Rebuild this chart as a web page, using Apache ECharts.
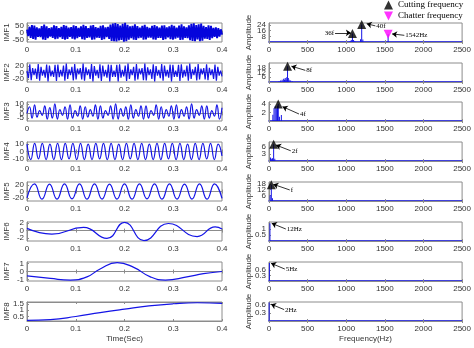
<!DOCTYPE html>
<html><head><meta charset="utf-8">
<script src="https://cdn.jsdelivr.net/npm/echarts@6/dist/echarts.min.js"></script>
<style>html,body{margin:0;padding:0;background:#fff}#c{width:474px;height:348px}</style>
</head><body><div id="c"></div>
<script>
// ================= DATA =================
const imfNames = ['IMF1','IMF2','IMF3','IMF4','IMF5','IMF6','IMF7','IMF8'];
const timeTicks = [0, 0.1, 0.2, 0.3, 0.4];
const freqTicks = [0, 500, 1000, 1500, 2000, 2500];

// dense IMFs: values sampled uniformly over 0..0.4 s
const IMF1 = [
 20,-25,40,-38,52,-45,48,-50,35,-30, 28,-32,45,-48,55,-52,42,-40,30,-28,
 35,-38,50,-46,44,-42,30,-32,40,-44, 52,-50,46,-44,34,-30,38,-42,50,-48,
 45,-40,32,-30,42,-46,54,-50,44,-38, 30,-34,48,-50,52,-48,38,-35,32,-38,
 46,-52,50,-46,36,-32,40,-44,55,-58, 62,-60,66,-62,58,-55,48,-52,60,-64,
 68,-60,54,-50,42,-40,46,-50,56,-52, 44,-40,34,-36,46,-50,54,-48,40,-36,
 32,-35,46,-48,52,-50,42,-38,34,-38, 48,-52,50,-46,36,-34,42,-46,54,-50,
 46,-42,34,-36,48,-52,56,-50,42,-38, 36,-40,50,-54,60,-58,64,-60,52,-48,
 56,-60,62,-56,46,-42,38,-44,50,-52, 46,-40,32,-30,36,-40,30,-28,22,-15
];
const IMF2 = [
 5,-18,26,-24,14,-8,12,-20,27,-26, 18,-10,8,-16,25,-28,22,-12,6,-14,
 24,-27,25,-15,8,-12,22,-26,28,-20, 10,-8,18,-25,27,-22,12,-6,14,-22,
 28,-26,16,-8,10,-20,27,-28,20,-10, 8,-18,26,-27,22,-12,8,-16,25,-28,
 24,-14,6,-14,24,-28,26,-16,8,-12, 22,-27,28,-20,10,-8,18,-26,27,-22,
 12,-6,14,-24,28,-25,16,-8,10,-20, 26,-28,20,-10,8,-18,27,-26,22,-12,
 8,-16,25,-28,24,-14,6,-14,24,-27, 26,-16,8,-12,22,-26,28,-20,10,-8,
 18,-25,27,-22,12,-6,14,-22,26,-24, 15,-8,10,-20,25,-26,18,-10,6,-12
];
const IMF3 = [
 0,7,-5,9,-4,3,-2,8,-6,6, -5,10,-6,4,-2,7,-6,9,-5,3,
 -3,8,-6,7,-4,4,-3,9,-6,8, -5,3,-2,8,-6,10,-6,5,-3,7,
 -6,9,-5,4,-3,8,-6,8,-5,3, -2,9,-6,7,-5,4,-3,8,-6,9,
 -5,4,-3,7,-6,10,-5,4,-2,8, -6,8,-5,3,-3,9,-6,6
];
const IMF4 = [
 10,-11,11,-10,11,-11,10,-11,11,-11, 11,-10,11,-11,11,-11,10,-11,11,-10,
 11,-11,11,-11,10,-11,11,-10,11,-11, 11,-11,10,-11,11,-11,11,-10,11,-11,
 11,-11,10,-11,11,-11,11,-10,11,-11, 10,-6
];
const IMF5 = [-20,24,-24,23,-24,24,-23,24,-24,24,-24,23,-24,24,-24,24,-23,24,-24,24,-24,23,-24,24,-24,24,-22];

// slow IMFs: explicit sample times (s) and values
const IMF6_t = [0, 0.051, 0.116, 0.164, 0.2, 0.24, 0.29, 0.349, 0.386, 0.4];
const IMF6   = [0.58, -0.93, 0.84, -2.1, 2.2, -2.7, 1.9, -1.6, 1.0, 0.4];
const IMF7_t = [0, 0.048, 0.089, 0.123, 0.15, 0.185, 0.219, 0.253, 0.284, 0.328, 0.362, 0.4];
const IMF7   = [-0.56, -0.88, -1.08, -0.68, 0.32, 1.12, 0.52, -0.68, -1.08, -0.68, -0.28, 0.0];
const IMF8_t = [0, 0.048, 0.1, 0.15, 0.2, 0.25, 0.3, 0.349, 0.4];
const IMF8   = [0.19, 0.25, 0.5, 0.81, 1.09, 1.35, 1.52, 1.6, 1.55];

const imfYTicks = [[-50,0,50],[-20,0,20],[-5,0,5,10],[-10,0,10],[-20,0,20],[-2,0,2],[-1,0,1],[0.5,1,1.5]];
const imfYMin = [-66, -30, -8, -13, -30, -2.8, -1.2, 0.14];
const imfYMax = [66, 30, 12, 13, 30, 2.3, 1.2, 1.66];

// spectra (frequency Hz, amplitude)
const spec1_f = [1050, 1065, 1080, 1095, 1110, 1185, 1200, 1215, 1542];
const spec1_a = [1.5, 3, 12, 3, 1.2, 4, 25, 3.5, 11];
const spec2_f = [130, 150, 170, 190, 200, 210, 220, 230, 240, 250, 260, 280, 300];
const spec2_a = [1, 2, 3, 4, 3, 5, 3, 6, 20, 5, 3, 2, 1];
const spec3_f = [50, 65, 80, 95, 110, 120, 135, 160];
const spec3_a = [1.5, 3, 3.5, 3, 3.6, 4, 1, 1.4];
const spec4_f = [20, 30, 45, 60, 75];
const spec4_a = [1.5, 1, 1.2, 7.2, 1];
const spec5_f = [15, 30, 45];
const spec5_a = [6, 17, 3];
const spec6_f = [12];
const spec6_a = [1.5];
const spec7_f = [5];
const spec7_a = [1.0];
const spec8_f = [2];
const spec8_a = [0.68];

const specYTicks = [[8,16,24],[6,12,18],[2,4],[3,6],[6,12,18],[0.5,1],[0.3,0.6],[0.3,0.6]];
const specYMax = [27, 24, 4.5, 8.2, 20, 1.6, 1.05, 0.7];

// markers: [panel, freq, amp]
const cutting = [[0,1080,12],[0,1200,25],[1,240,20],[2,120,4],[3,60,7.2],[4,30,17]];
const chatter = [[0,1542,11]];

// annotations: panel, text, arrow tail (freq, amp), arrow tip (freq, amp)
const notes = [
  [0,'36f',[855,13],[1060,13]],
  [0,'40f',[1377,22.9],[1265,26]],
  [0,'1542Hz',[1752,9.5],[1594,11.5]],
  [1,'8f',[470,14.7],[290,20]],
  [2,'4f',[388,1.66],[175,3.4]],
  [3,'2f',[282,4.4],[90,6.9]],
  [4,'f',[269,11.6],[55,17.6]],
  [5,'12Hz',[218,1.01],[35,1.49]],
  [6,'5Hz',[205,0.66],[26,0.98]],
  [7,'2Hz',[196,0.42],[26,0.62]]
];

// ================= BUILD =================
const sans = 'Liberation Sans, Arial, sans-serif';
const serif = 'Liberation Serif, Times New Roman, serif';
const boxColor = '#8c8c8c', txt = '#333';
const blue = '#1414e6';
const tops = [23, 63, 102, 142, 182, 222, 262, 302];
const H = 19;

const uniform = arr => arr.map((v,i)=>[i*0.4/(arr.length-1), v]);
const paired = (t, v) => t.map((x,i)=>[x, v[i]]);
const imfData = [uniform(IMF1), uniform(IMF2), uniform(IMF3), uniform(IMF4), uniform(IMF5),
  paired(IMF6_t, IMF6), paired(IMF7_t, IMF7), paired(IMF8_t, IMF8)];
const specData = [paired(spec1_f,spec1_a), paired(spec2_f,spec2_a), paired(spec3_f,spec3_a), paired(spec4_f,spec4_a),
  paired(spec5_f,spec5_a), paired(spec6_f,spec6_a), paired(spec7_f,spec7_a), paired(spec8_f,spec8_a)];

const grids = [], xAxes = [], yAxes = [], series = [];
for (let i=0;i<8;i++) grids.push({left:27, top:tops[i], width:195, height:H, show:true, borderColor:boxColor, borderWidth:1});
for (let i=0;i<8;i++) grids.push({left:269, top:tops[i], width:195, height:H, show:true, borderColor:boxColor, borderWidth:1});

const lbl = {fontSize:8, color:txt, fontFamily:sans, hideOverlap:false};
const fmtNum = v => String(+(+v).toFixed(3));
for (let i=0;i<8;i++){
  xAxes.push({type:'value', gridIndex:i, min:timeTicks[0], max:timeTicks[timeTicks.length-1], interval:0.1,
    axisLine:{lineStyle:{color:boxColor}}, axisTick:{inside:true,length:2,lineStyle:{color:boxColor}},
    axisLabel:Object.assign({margin:4, formatter:fmtNum}, lbl), splitLine:{show:false},
    name: i===7 ? 'Time(Sec)' : '', nameLocation:'middle', nameGap:14, nameTextStyle:{fontSize:8,color:txt,fontFamily:sans}});
}
for (let i=0;i<8;i++){
  xAxes.push({type:'value', gridIndex:8+i, min:freqTicks[0], max:freqTicks[freqTicks.length-1], interval:500,
    axisLine:{lineStyle:{color:blue,width:1.5}}, axisTick:{inside:true,length:2,lineStyle:{color:boxColor}},
    axisLabel:Object.assign({margin:4, formatter:fmtNum}, lbl), splitLine:{show:false},
    name: i===7 ? 'Frequency(Hz)' : '', nameLocation:'middle', nameGap:14, nameTextStyle:{fontSize:8,color:txt,fontFamily:sans}});
}
// top tick axes
for (let i=0;i<16;i++){
  const left = i<8;
  xAxes.push({type:'value', gridIndex:i, position:'top', min:0, max: left?0.4:2500, interval: left?0.1:500,
    axisLine:{lineStyle:{color:boxColor}}, axisTick:{inside:true,length:2,lineStyle:{color:boxColor}},
    axisLabel:{show:false}, splitLine:{show:false}});
}
// main y axes (line, ticks, name)
for (let i=0;i<8;i++){
  yAxes.push({type:'value', gridIndex:i, position:'left', min:imfYMin[i], max:imfYMax[i],
    axisLine:{show:true,lineStyle:{color:boxColor}},
    axisTick:{show:true,inside:true,length:2,customValues:imfYTicks[i],lineStyle:{color:boxColor}},
    axisLabel:{show:false}, splitLine:{show:false},
    name:imfNames[i], nameLocation:'middle', nameGap:16, nameTextStyle:{fontSize:8,color:txt,fontFamily:sans}});
}
for (let i=0;i<8;i++){
  yAxes.push({type:'value', gridIndex:8+i, position:'left', min:0, max:specYMax[i],
    axisLine:{show:true,lineStyle:{color:boxColor}},
    axisTick:{show:true,inside:true,length:2,customValues:specYTicks[i],lineStyle:{color:boxColor}},
    axisLabel:{show:false}, splitLine:{show:false},
    name:'Amplitude', nameLocation:'middle', nameGap:16, nameTextStyle:{fontSize:8,color:txt,fontFamily:sans}});
}
// one label-only axis per tick label, so crowded labels all stay visible
function labelAxes(gridIndex, min, max, ticks){
  ticks.forEach(v=>{
    yAxes.push({type:'value', gridIndex:gridIndex, position:'left', offset:0, min:min, max:max,
      axisLine:{show:false}, axisTick:{show:false}, splitLine:{show:false},
      axisLabel:Object.assign({margin:3, customValues:[v], formatter:fmtNum}, lbl)});
  });
}
for (let i=0;i<8;i++) labelAxes(i, imfYMin[i], imfYMax[i], imfYTicks[i]);
for (let i=0;i<8;i++) labelAxes(8+i, 0, specYMax[i], specYTicks[i]);

for (let i=0;i<8;i++){
  series.push({type:'line', xAxisIndex:i, yAxisIndex:i, data:imfData[i], showSymbol:false, sampling:null,
    smooth: i<2 ? false : 0.5,
    lineStyle:{color: i===0 ? '#0505dc' : blue, width: i===0 ? 1.9 : (i===1 ? 1.2 : 1.2)}, silent:true});
}
for (let i=0;i<8;i++){
  const ml = notes.filter(n=>n[0]===i).map(n=>[
    {coord:n[2], label:{show:true, position:'start', formatter:n[1], fontSize:7, fontFamily:serif, color:'#000', distance:1}},
    {coord:n[3]}
  ]);
  series.push({type:'bar', xAxisIndex:8+i, yAxisIndex:8+i, data:specData[i], barWidth:1,
    itemStyle:{color:blue}, silent:true,
    markLine:{silent:true, symbol:['none','arrow'], symbolSize:5, lineStyle:{color:'#000',width:0.8,type:'solid'},
      label:{show:true}, data:ml}});
  const cut = cutting.filter(c=>c[0]===i).map(c=>[c[1],c[2]]);
  series.push({type:'scatter', name:'Cutting frequency', xAxisIndex:8+i, yAxisIndex:8+i, data:cut,
    symbol:'triangle', symbolSize:9, itemStyle:{color:'#000'}, z:5, silent:true});
  const ch = chatter.filter(c=>c[0]===i).map(c=>[c[1],c[2]]);
  series.push({type:'scatter', name:'Chatter frequency', xAxisIndex:8+i, yAxisIndex:8+i, data:ch,
    symbol:'path://M0,0L10,0L5,10Z', symbolSize:9, itemStyle:{color:'#ff00ff'}, z:5, silent:true});
}

const chart = echarts.init(document.getElementById('c'));
chart.setOption({
  animation:false,
  backgroundColor:'#fff',
  legend:{orient:'vertical', left:384, top:0, itemWidth:9, itemHeight:9, itemGap:1, padding:0,
    textStyle:{fontFamily:serif, fontSize:9, color:'#000', lineHeight:10},
    data:[{name:'Cutting frequency', icon:'triangle', itemStyle:{color:'#000'}},
          {name:'Chatter frequency', icon:'path://M0,0L10,0L5,10Z', itemStyle:{color:'#ff00ff'}}]},
  grid:grids, xAxis:xAxes, yAxis:yAxes, series:series
});
</script></body></html>
